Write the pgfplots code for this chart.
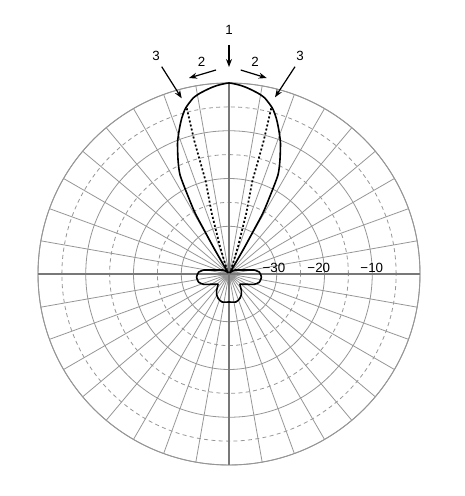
\documentclass[border=0pt]{standalone}
\usepackage{fontspec}
\setmainfont{Liberation Sans}
\usepackage{pgfplots}
\pgfplotsset{compat=1.18}
\usepgfplotslibrary{polar}
\usetikzlibrary{arrows.meta}
\definecolor{gridgray}{RGB}{150,150,150}

% radiation pattern, radius = level + 40 dB
\pgfplotstableread{
ang r
-90 5.86
-75.9 6.04
-66.2 5.6
-59.6 5.09
-52.4 4.22
-43.1 3.15
-36.3 3.64
-28.5 4.52
-22.2 5.72
-15.2 6.58
-5.6 6.82
3.5 6.37
8.9 5.36
9.5 5.09
11.9 4.06
16 3.05
24 2.06
33.7 1.5
40 1.0
50 0.5
58 0.4
59 2.5
59.8 6.5
60.5 10.6
60.9 14.6
62.2 18.3
63.67 23.1
65.9 26.13
68.69 29.64
71.27 32.26
73.13 34.1
75.32 35.9
78.44 37.58
80.9 38.35
84.17 39.12
86.67 39.6
90 40
93.33 39.6
95.83 39.12
99.1 38.35
101.56 37.58
104.68 35.9
106.87 34.1
108.73 32.26
111.31 29.64
114.1 26.13
116.33 23.1
117.8 18.3
119.1 14.6
119.5 10.6
120.2 6.5
121 2.5
122 0.4
130 0.5
140 1.0
146.3 1.5
156 2.06
164 3.05
168.1 4.06
170.5 5.09
171.1 5.36
176.5 6.37
185.6 6.82
195.2 6.58
202.2 5.72
208.5 4.52
216.3 3.64
223.1 3.15
232.4 4.22
239.6 5.09
246.2 5.6
255.9 6.04
270 5.86
}\pattern

\begin{document}
\begin{tikzpicture}
\begin{polaraxis}[
    scale only axis,
    width=286.5pt, height=286.5pt,
    ymin=0, ymax=40,
    xtick={0,10,...,350}, xticklabels={},
    ytick={10,20,30,40}, yticklabels={},
    minor ytick={15,25,35},
    grid=both,
    major grid style={gridgray, line width=0.6pt},
    minor grid style={gridgray, line width=0.6pt, dash pattern=on 3pt off 2.5pt},
    axis line style={gridgray, line width=0.7pt},
    major tick length=0pt, minor tick length=0pt,
    clip=false,
]
\draw[gridgray!80!black, line width=0.9pt] (axis cs:0,40) -- (axis cs:180,40);
\draw[gridgray!80!black, line width=0.9pt] (axis cs:90,40) -- (axis cs:270,40);

\addplot[black, line width=1.2pt, smooth, tension=0.4, line join=round]
    table[x=ang, y=r] {\pattern};

\addplot[black, line width=1.3pt, dash pattern=on 1.5pt off 1.6pt]
    coordinates {(104.3,35.8)(104.6,28.7)(104.1,20)(105.9,13.2)(108.2,6.0)(110.5,2.4)(113,1.0)};
\addplot[black, line width=1.3pt, dash pattern=on 1.5pt off 1.6pt]
    coordinates {(75.7,35.8)(75.4,28.7)(75.9,20)(74.1,13.2)(71.8,6.0)(69.5,2.4)(67,1.0)};

\node[anchor=base, inner sep=0pt, font=\fontsize{10}{12}\selectfont] at (axis cs:0,9.4) [yshift=1pt] {−30};
\node[anchor=base, inner sep=0pt, font=\fontsize{10}{12}\selectfont] at (axis cs:0,18.8) [yshift=1pt] {−20};
\node[anchor=base, inner sep=0pt, font=\fontsize{10}{12}\selectfont] at (axis cs:0,29.9) [yshift=1pt] {−10};

\coordinate (c) at (axis cs:0,0);
\end{polaraxis}

\begin{scope}[shift={(c)}, x=0.75pt, y=-0.75pt, font=\fontsize{10}{12}\selectfont]
  \node at (0,-244) {1};
  \draw[line width=0.9pt, -{Stealth[length=6pt,width=4.5pt]}] (0,-229) -- (0,-207);
  \node at (-27.3,-212.3) {2};
  \node at (26,-212.3) {2};
  \draw[line width=0.9pt, -{Stealth[length=6pt,width=4.5pt]}] (-13,-204) -- (-40,-196);
  \draw[line width=0.9pt, -{Stealth[length=6pt,width=4.5pt]}] (11.7,-204) -- (37.7,-196);
  \node at (-73,-218) {3};
  \node at (71,-218) {3};
  \draw[line width=0.9pt, -{Stealth[length=6pt,width=4.5pt]}] (-67.3,-207.3) -- (-47.3,-175.7);
  \draw[line width=0.9pt, -{Stealth[length=6pt,width=4.5pt]}] (66,-207.3) -- (46,-176.7);
\end{scope}

\path[use as bounding box] ([xshift=-171.75pt, yshift=-166.5pt]c) rectangle ([xshift=176.25pt, yshift=205.5pt]c);
\end{tikzpicture}
\end{document}
